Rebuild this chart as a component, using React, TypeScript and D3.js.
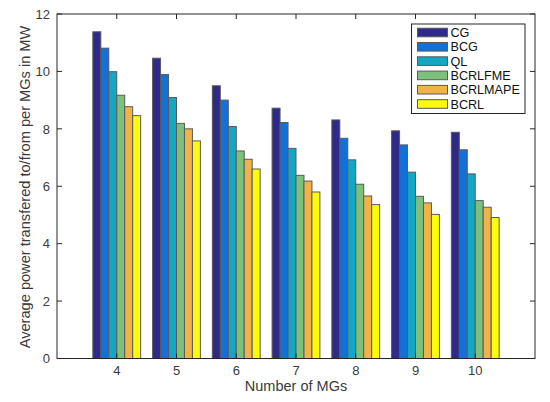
import * as d3 from 'd3';

const W = 550;
const H = 402;

const mgCounts = [4, 5, 6, 7, 8, 9, 10];
const seriesNames = ['CG', 'BCG', 'QL', 'BCRLFME', 'BCRLMAPE', 'BCRL'];
const seriesColors = ['#2f2a88', '#1171d9', '#15a6c4', '#7cc07b', '#f0b347', '#fcfb0c'];

const cgValues = [11.38, 10.46, 9.5, 8.72, 8.31, 7.93, 7.88];
const bcgValues = [10.81, 9.89, 9.0, 8.22, 7.67, 7.44, 7.27];
const qlValues = [9.99, 9.09, 8.08, 7.32, 6.92, 6.49, 6.43];
const bcrlfmeValues = [9.17, 8.19, 7.23, 6.38, 6.07, 5.65, 5.5];
const bcrlmapeValues = [8.77, 8.0, 6.94, 6.18, 5.66, 5.42, 5.27];
const bcrlValues = [8.46, 7.58, 6.6, 5.8, 5.36, 5.02, 4.91];

const seriesValues = [cgValues, bcgValues, qlValues, bcrlfmeValues, bcrlmapeValues, bcrlValues];
const yTicks = [0, 2, 4, 6, 8, 10, 12];

const FONT = '"Liberation Sans", Arial, Helvetica, sans-serif';
const TEXT = '#3a3a3a';
const left = 57;
const right = 535;
const top = 14;
const bottom = 358.5;

export default function App() {
  const x = d3.scaleLinear().domain([3, 11]).range([left, right]);
  const y = d3.scaleLinear().domain([0, 12]).range([bottom, top]);
  // grouped bars: group takes 0.8 of unit spacing
  const groupW = (x(1) - x(0)) * 0.8;
  const band = d3
    .scaleBand<number>()
    .domain(d3.range(seriesNames.length))
    .range([-groupW / 2, groupW / 2])
    .paddingInner(0);
  const tickLen = 5;

  return (
    <svg width={W} height={H} style={{ position: 'absolute', left: 0, top: 0, background: '#fff' }}>
      <rect x={0} y={0} width={W} height={H} fill="#fff" />

      {/* Bars */}
      {mgCounts.map((m, i) => (
        <g key={m}>
          {seriesValues.map((vals, s) => (
            <rect
              key={s}
              x={x(m) + band(s)!}
              y={y(vals[i])}
              width={band.bandwidth()}
              height={y(0) - y(vals[i])}
              fill={seriesColors[s]}
              stroke="#5a5a5a"
              strokeWidth={1}
            />
          ))}
        </g>
      ))}

      {/* Axes box */}
      <rect x={left} y={top} width={right - left} height={bottom - top} fill="none" stroke="#262626" strokeWidth={1} />

      {/* X ticks */}
      {mgCounts.map((m) => (
        <g key={m}>
          <line x1={x(m)} x2={x(m)} y1={bottom} y2={bottom - tickLen} stroke="#262626" />
          <line x1={x(m)} x2={x(m)} y1={top} y2={top + tickLen} stroke="#262626" />
          <text x={x(m)} y={bottom + 16.5} textAnchor="middle" fontFamily={FONT} fontSize={13} fill={TEXT}>
            {m}
          </text>
        </g>
      ))}

      {/* Y ticks */}
      {yTicks.map((t) => (
        <g key={t}>
          <line x1={left} x2={left + tickLen} y1={y(t)} y2={y(t)} stroke="#262626" />
          <line x1={right} x2={right - tickLen} y1={y(t)} y2={y(t)} stroke="#262626" />
          <text x={left - 7} y={y(t) + 4.7} textAnchor="end" fontFamily={FONT} fontSize={13} fill={TEXT}>
            {t}
          </text>
        </g>
      ))}

      {/* Axis labels */}
      <text x={296} y={391} textAnchor="middle" fontFamily={FONT} fontSize={14.5} fill={TEXT}>
        Number of MGs
      </text>
      <text
        transform={`translate(30, 187) rotate(-90)`}
        textAnchor="middle"
        fontFamily={FONT}
        fontSize={14.6}
        fill={TEXT}
      >
        Average power transfered to/from per MGs in MW
      </text>

      {/* Legend */}
      <g>
        <rect x={411.5} y={24} width={113.5} height={89.5} fill="#fff" stroke="#262626" strokeWidth={1} />
        {seriesNames.map((name, s) => {
          const cy = 32.5 + s * 14.3;
          return (
            <g key={name}>
              <rect x={417.5} y={cy - 4.3} width={30} height={8.6} fill={seriesColors[s]} stroke="#5a5a5a" strokeWidth={1} />
              <text x={450.5} y={cy + 4.5} fontFamily={FONT} fontSize={12.6} fill="#111">
                {name}
              </text>
            </g>
          );
        })}
      </g>
    </svg>
  );
}
